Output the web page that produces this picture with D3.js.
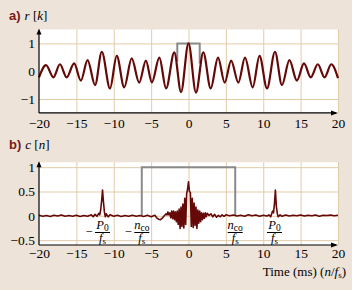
<!DOCTYPE html>
<html><head><meta charset="utf-8">
<script src="https://cdn.jsdelivr.net/npm/d3@7"></script>
<style>
html,body{margin:0;padding:0;background:#ede3d9;}
svg{display:block;}
</style></head>
<body>
<script>
// ---------- DATA ----------
const xTicks = [-20,-15,-10,-5,0,5,10,15,20];
const rTicksY = [-1,0,1];
const cTicksY = [-0.5,0,0.5,1];

// r[k] extrema (time ms, value)
const rTime = [-20,-19.06,-18.08,-17.2,-16.3,-15.3,-14.4,-13.5,-12.5,-11.6,-10.5,-9.6,-8.6,-7.6,-6.6,-5.7,-4.9,-3.9,-3.0,-1.9,-1.0,0,1.0,1.98,2.97,3.95,4.84,5.7,6.67,7.56,8.59,9.5,10.5,11.57,12.5,13.5,14.5,15.45,16.35,17.3,18.2,19.1,20];
const rValue = [-0.22,0.22,-0.22,0.25,-0.22,0.28,-0.34,0.40,-0.50,0.70,-0.62,0.55,-0.58,0.46,-0.41,0.38,-0.40,0.49,-0.62,0.68,-0.75,1.0,-0.77,0.68,-0.62,0.49,-0.41,0.38,-0.41,0.49,-0.58,0.55,-0.62,0.70,-0.50,0.40,-0.34,0.28,-0.22,0.25,-0.22,0.25,-0.25];

// window on r[k]
const rWindowX = [-1.5, 1.5];
const rWindowY = [0.35, 1, 0.28];

// c[n] samples [time ms, value]
const cSeries = [
[-20,0.01],[-19.5,-0.01],[-19,0.005],[-18.5,-0.015],[-18,0.01],[-17.5,-0.005],[-17,0.015],[-16.5,-0.01],[-16,0.005],[-15.5,-0.01],[-15,0.01],[-14.5,-0.015],[-14,0.005],[-13.5,-0.01],[-13,0.02],[-12.75,-0.02],[-12.5,0.03],[-12.25,-0.01],[-12,0.05],[-11.875,0.02],[-11.75,0.12],[-11.625,0.3],[-11.5,0.53],[-11.375,0.28],[-11.25,0.08],[-11.125,-0.02],[-11,0.04],[-10.75,-0.02],[-10.5,0.02],[-10,-0.01],[-9.5,0.01],[-9,-0.015],[-8.5,0.005],[-8,-0.01],[-7.5,0.01],[-7,-0.01],[-6.5,0.005],[-6,-0.015],[-5.5,0.01],[-5,-0.02],[-4.5,0.01],[-4.25,-0.04],[-4,-0.07],[-3.75,-0.08],[-3.5,-0.05],[-3.25,0.0],[-3,0.04],[-2.875,0.02],[-2.75,0.08],[-2.625,0.02],[-2.5,0.06],[-2.375,-0.04],[-2.25,0.1],[-2.125,-0.06],
[-2,0.1],[-1.875,-0.08],[-1.75,0.08],[-1.625,-0.12],[-1.5,0.1],[-1.375,-0.18],[-1.25,0.14],[-1.125,-0.26],[-1,0.18],[-0.875,-0.22],[-0.75,0.24],[-0.625,-0.25],[-0.5,0.36],[-0.375,-0.18],[-0.25,0.45],[-0.125,0.55],[0,0.70],[0.125,0.5],[0.25,0.48],[0.375,-0.22],[0.5,0.36],[0.625,-0.24],[0.75,0.26],[0.875,-0.2],[1,0.18],[1.125,-0.26],[1.25,0.12],[1.375,-0.15],[1.5,0.1],[1.625,-0.12],[1.75,0.06],[1.875,-0.08],[2,0.05],
[2.125,-0.05],[2.25,0.06],[2.375,-0.02],[2.5,0.05],[2.75,0.01],[3,0.04],[3.25,-0.02],[3.5,0.03],[3.75,-0.03],[4,0.01],[4.25,-0.02],[4.5,0.02],[4.75,-0.01],[5,0.02],[5.5,0.0],[6,0.015],[6.5,-0.005],[7,0.01],[7.5,-0.01],[8,0.02],[8.5,0.0],[9,0.015],[9.5,-0.01],[10,0.01],[10.5,-0.005],[10.75,0.02],[11,-0.02],[11.125,0.04],[11.25,0.1],[11.375,0.06],[11.5,0.25],[11.625,0.53],[11.75,0.2],[11.875,0.05],[12,-0.02],[12.25,0.02],[12.5,-0.01],[13,0.015],[13.5,-0.005],[14,0.01],[14.5,0.0],[15,0.015],[15.5,-0.005],[16,0.01],[16.5,0.0],[17,0.015],[17.5,-0.01],[18,0.01],[18.5,0.005],[19,0.015],[19.5,0.0],[20,0.01]
];

// lifter window on c[n]
const cWindowX = [-6.25, 6.25];
const cWindowY = [0, 1];

// annotations below c[n]
const cLabels = [
  {t:-11.5, neg:true,  num:"P", sub:"0"},
  {t:-6.25, neg:true,  num:"n", sub:"co"},
  {t: 6.25, neg:false, num:"n", sub:"co"},
  {t: 11.5, neg:false, num:"P", sub:"0"}
];

// ---------- STYLE ----------
const W = 352, H = 290;
const BG = "#ede3d9", GRID = "#e2cba9", CURVE = "#640808", BOX = "#8a8a8a", TITLE = "#7a1818";
const SERIF = "'Liberation Serif', 'Times New Roman', serif";
const fmt = d3.format("");

const svg = d3.select("body").append("svg").attr("width", W).attr("height", H);
svg.append("rect").attr("width", W).attr("height", H).attr("fill", BG);

const x = d3.scaleLinear([-20, 20], [39, 338]);

function panel(y, yTicks) {
  const g = svg.append("g");
  const [y0, y1] = y.range();
  g.append("rect").attr("x", x(-20)).attr("y", y1).attr("width", x(20) - x(-20)).attr("height", y0 - y1).attr("fill", "#fff");
  g.append("g").attr("transform", `translate(0,${y0})`)
    .call(d3.axisBottom(x).tickValues(xTicks.filter(d => d > -20)).tickSize(-(y0 - y1)).tickFormat(""))
    .call(s => s.select(".domain").remove())
    .call(s => s.selectAll("line").attr("stroke", GRID).attr("stroke-width", 1));
  g.append("g").attr("transform", `translate(${x(-20)},0)`)
    .call(d3.axisLeft(y).tickValues(yTicks).tickSize(-(x(20) - x(-20))).tickFormat(""))
    .call(s => s.select(".domain").remove())
    .call(s => s.selectAll("line").attr("stroke", GRID).attr("stroke-width", 1));
  return g;
}

function axes(y, yTicks, xPad) {
  const [y0, y1] = y.range();
  const g = svg.append("g");
  const xa = g.append("g").attr("transform", `translate(0,${y0})`)
    .call(d3.axisBottom(x).tickValues(xTicks).tickSize(0).tickPadding(xPad).tickFormat(fmt));
  xa.select(".domain").remove();
  xa.selectAll("text").attr("font-family", SERIF).attr("font-size", 13.5).attr("fill", "#000");
  const ya = g.append("g").attr("transform", `translate(${x(-20)},0)`)
    .call(d3.axisLeft(y).tickValues(yTicks).tickSize(0).tickPadding(4).tickFormat(fmt));
  ya.select(".domain").remove();
  ya.selectAll("text").attr("font-family", SERIF).attr("font-size", 13.5).attr("fill", "#000");
  g.append("line").attr("x1", x(-20)).attr("x2", x(20) - 2).attr("y1", y0).attr("y2", y0).attr("stroke", "#000").attr("stroke-width", 1.2);
  g.append("line").attr("x1", x(-20)).attr("x2", x(-20)).attr("y1", y0).attr("y2", y1 + 2).attr("stroke", "#000").attr("stroke-width", 1.2);
  g.append("path").attr("d", `M${x(20)},${y0} l-7,-2.5 l0,5 z`).attr("fill", "#000");
  g.append("path").attr("d", `M${x(-20)},${y1 - 1} l-2.5,6 l5,0 z`).attr("fill", "#000");
}

// ---------- PANEL A ----------
const yA = d3.scaleLinear([-1.5, 1.5], [112.9, 29.5]);
panel(yA, [-1, 1]);
svg.append("path")
  .attr("d", `M${x(rWindowX[0])},${yA(rWindowY[0])} V${yA(rWindowY[1])} H${x(rWindowX[1])} V${yA(rWindowY[2])}`)
  .attr("fill", "none").attr("stroke", BOX).attr("stroke-width", 2);
svg.append("path").datum(rTime.map((t, i) => [t, rValue[i]]))
  .attr("d", d3.line().x(d => x(d[0])).y(d => yA(d[1])).curve(d3.curveMonotoneX))
  .attr("fill", "none").attr("stroke", CURVE).attr("stroke-width", 2.2).attr("stroke-linejoin", "round");
axes(yA, rTicksY, 6);

// ---------- PANEL B ----------
const yB = d3.scaleLinear([-0.6, 1.1], [245, 162.3]);
panel(yB, cTicksY);
svg.append("path")
  .attr("d", `M${x(cWindowX[0])},${yB(cWindowY[0])} V${yB(cWindowY[1])} H${x(cWindowX[1])} V${yB(cWindowY[0])}`)
  .attr("fill", "none").attr("stroke", BOX).attr("stroke-width", 2);
svg.append("path").datum(cSeries)
  .attr("d", d3.line().x(d => x(d[0])).y(d => yB(d[1])))
  .attr("fill", "none").attr("stroke", CURVE).attr("stroke-width", 1.6).attr("stroke-linejoin", "round");
axes(yB, cTicksY, 3);

// fraction labels
cLabels.forEach(l => {
  const cx = x(l.t), barY = 232.5;
  const g = svg.append("g").attr("font-family", SERIF).attr("fill", "#000");
  const num = g.append("text").attr("x", cx).attr("y", barY - 4).attr("text-anchor", "middle").attr("font-size", 12.5);
  num.append("tspan").attr("font-style", "italic").text(l.num);
  num.append("tspan").attr("font-size", 9.5).attr("dy", 2).text(l.sub);
  g.append("line").attr("x1", cx - 7.5).attr("x2", cx + 7.5).attr("y1", barY).attr("y2", barY).attr("stroke", "#000").attr("stroke-width", 1);
  const den = g.append("text").attr("x", cx).attr("y", barY + 9.5).attr("text-anchor", "middle").attr("font-size", 12.5);
  den.append("tspan").attr("font-style", "italic").text("f");
  den.append("tspan").attr("font-size", 9).attr("dy", 1.5).text("s");
  if (l.neg) {
    g.append("text").attr("x", cx - 10).attr("y", barY + 3.5).attr("text-anchor", "end").attr("font-size", 12.5).text("\u2212");
  }
});

// titles
function title(yb, letter, sym, idx) {
  const t = svg.append("text").attr("x", 9).attr("y", yb).attr("font-size", 13);
  t.append("tspan").attr("font-family", "'Liberation Sans', Arial, sans-serif").attr("font-weight", "bold").attr("fill", TITLE).text(letter);
  t.append("tspan").attr("font-family", SERIF).attr("font-style", "italic").attr("dx", 4).text(sym);
  t.append("tspan").attr("font-family", SERIF).text(" [");
  t.append("tspan").attr("font-family", SERIF).attr("font-style", "italic").text(idx);
  t.append("tspan").attr("font-family", SERIF).text("]");
}
title(20, "a)", "r", "k");
title(149, "b)", "c", "n");

// x-axis caption
const cap = svg.append("text").attr("x", 346).attr("y", 276).attr("text-anchor", "end")
  .attr("font-family", SERIF).attr("font-size", 13);
cap.append("tspan").text("Time (ms) (");
cap.append("tspan").attr("font-style", "italic").text("n");
cap.append("tspan").text("/");
cap.append("tspan").attr("font-style", "italic").text("f");
cap.append("tspan").attr("font-size", 9).attr("dy", 2).text("s");
cap.append("tspan").attr("dy", -2).text(")");
</script>
</body></html>
